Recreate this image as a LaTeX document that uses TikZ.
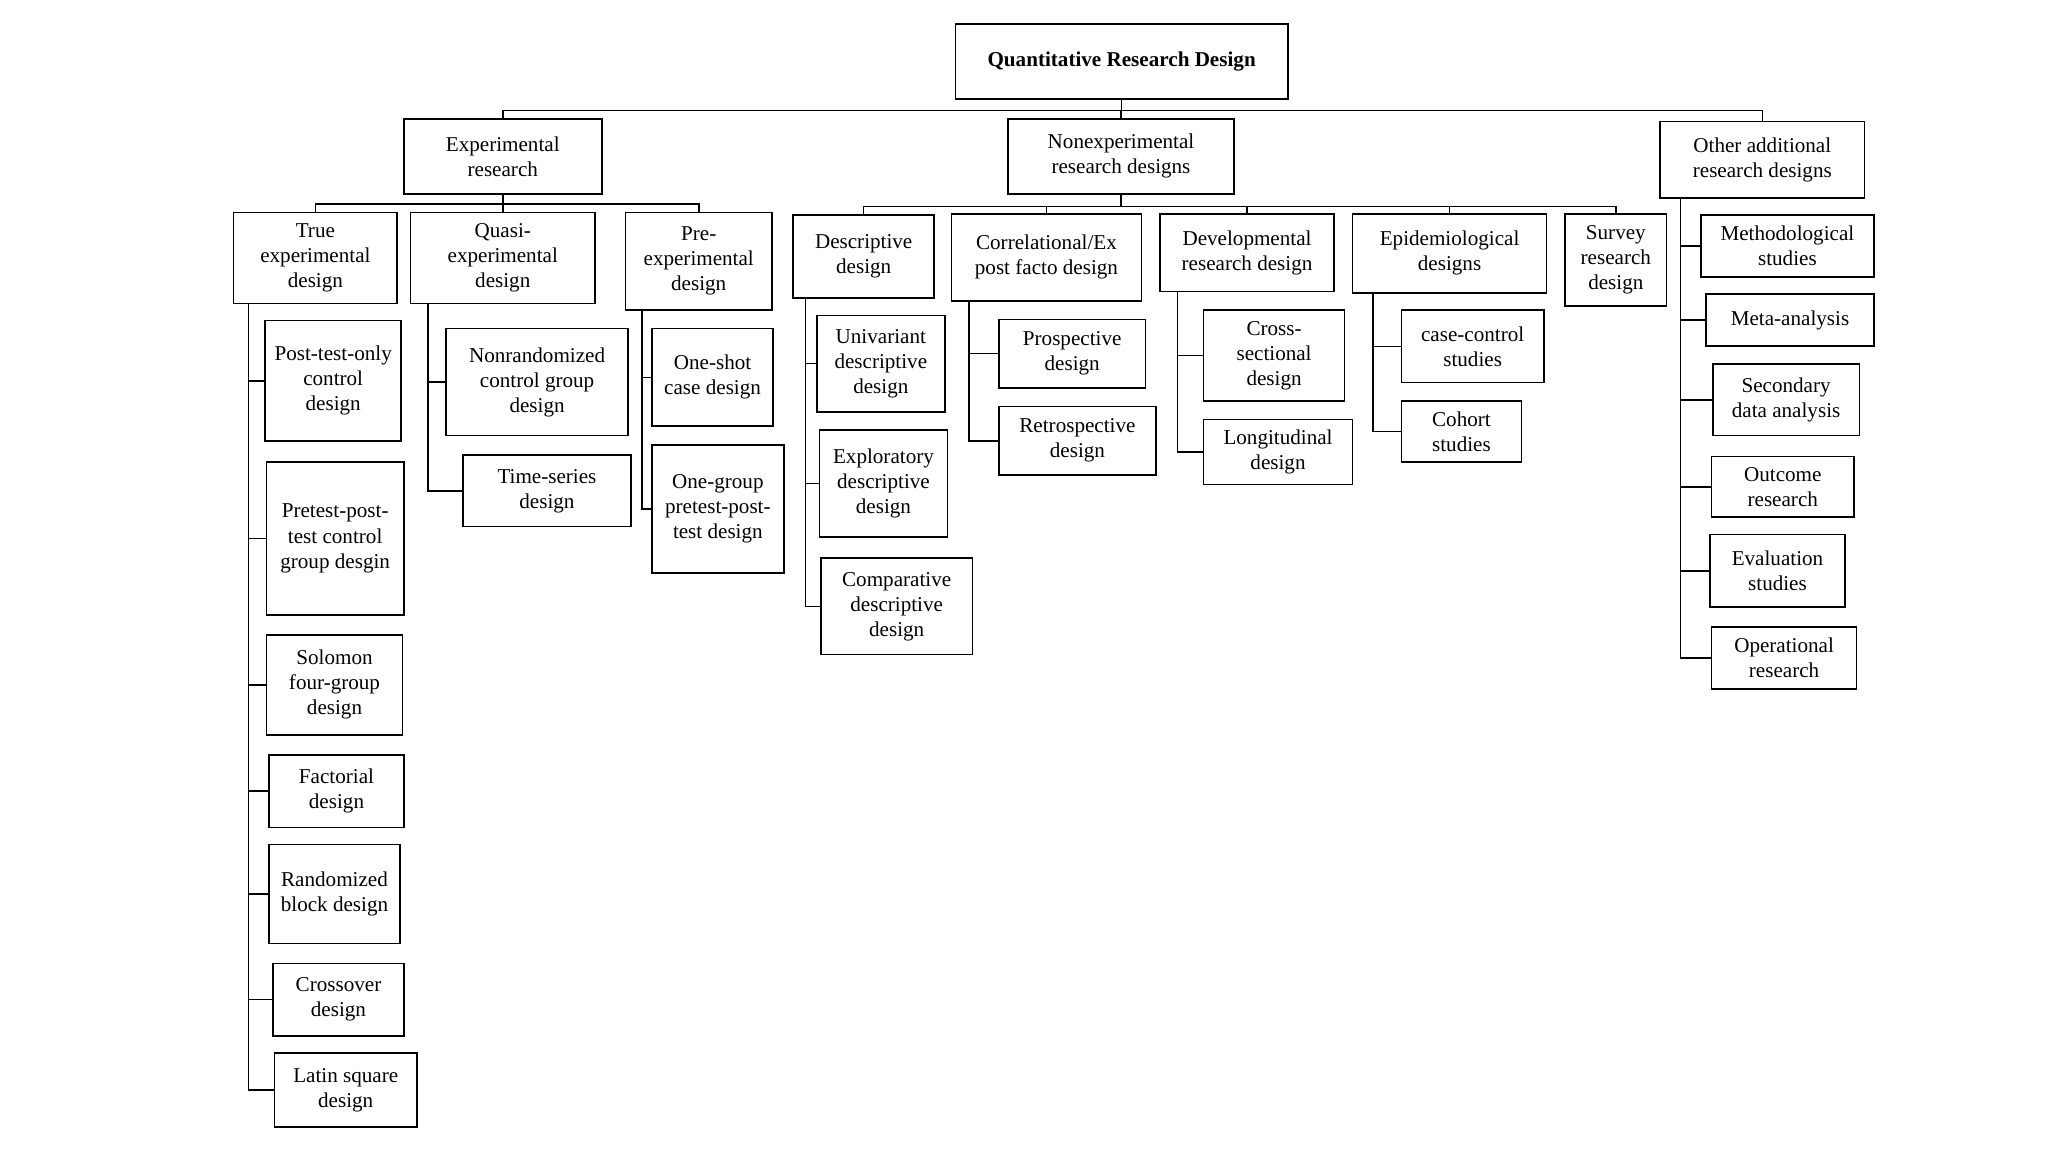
\documentclass[tikz,border=0pt]{standalone}
\usepackage{fontspec}
\setmainfont{Liberation Serif}
\usetikzlibrary{calc}
\tikzset{every picture/.style={line width=1.2pt}}
\tikzset{box/.style={draw,align=center,inner sep=0pt,font=\fontsize{16}{19}\selectfont}}
% box from corner (x1,y1) to corner (x2,y2)
\newcommand{\bx}[6]{%
  \pgfmathsetmacro{\bw}{#4-#2}\pgfmathsetmacro{\bh}{#5-#3}%
  \node[box,minimum width=\bw pt,minimum height=\bh pt] (#1) at ({(#2+#4)/2},{(#3+#5)/2}) {#6};}

\begin{document}
\begin{tikzpicture}[x=1pt,y=1pt,yscale=-1]
\useasboundingbox (0,0) rectangle (1552,873);

% top levels
\bx{root}{724}{18}{976}{75}{\textbf{Quantitative Research Design}}
\bx{exp}{306}{90}{456}{147}{Experimental\\research}
\bx{nonexp}{764}{90}{935}{147}{Nonexperimental\\research designs}
\bx{other}{1258}{92}{1413}{150}{Other additional\\research designs}

% second level
\bx{true}{177}{161}{301}{230}{True\\experimental\\design}
\bx{quasi}{311}{161}{451}{230}{Quasi-\\experimental\\design}
\bx{pre}{474}{161}{585}{235}{Pre-\\experimental\\design}
\bx{desc}{601}{163}{708}{226}{Descriptive\\design}
\bx{corr}{721}{162}{865}{228}{Correlational/Ex\\post facto design}
\bx{dev}{879}{162}{1011}{221}{Developmental\\research design}
\bx{epi}{1025}{162}{1172}{222}{Epidemiological\\designs}
\bx{survey}{1186}{162}{1263}{232}{Survey\\research\\design}

% true experimental
\bx{posttest}{201}{243}{304}{334}{Post-test-only\\control\\design}
\bx{pretest}{202}{350}{306}{466}{Pretest-post-\\test control\\group desgin}
\bx{solomon}{202}{481}{305}{557}{Solomon\\four-group\\design}
\bx{factorial}{204}{572}{306}{627}{Factorial\\design}
\bx{randblock}{204}{640}{303}{715}{Randomized\\block design}
\bx{crossover}{207}{730}{306}{785}{Crossover\\design}
\bx{latin}{208}{798}{316}{854}{Latin square\\design}

% quasi / pre
\bx{nonrand}{338}{249}{476}{330}{Nonrandomized\\control group\\design}
\bx{timeser}{351}{345}{478}{399}{Time-series\\design}
\bx{oneshot}{494}{249}{586}{323}{One-shot\\case design}
\bx{onegroup}{494}{337}{594}{434}{One-group\\pretest-post-\\test design}

% nonexperimental
\bx{univ}{619}{239}{716}{312}{Univariant\\descriptive\\design}
\bx{explor}{621}{326}{718}{407}{Exploratory\\descriptive\\design}
\bx{compar}{622}{423}{737}{496}{Comparative\\descriptive\\design}
\bx{prosp}{757}{242}{868}{294}{Prospective\\design}
\bx{retro}{757}{308}{876}{360}{Retrospective\\design}
\bx{cross}{912}{235}{1019}{304}{Cross-\\sectional\\design}
\bx{longi}{912}{318}{1025}{367}{Longitudinal\\design}
\bx{casectl}{1062}{235}{1170}{290}{case-control\\studies}
\bx{cohort}{1062}{304}{1153}{350}{Cohort\\studies}

% other
\bx{method}{1289}{163}{1420}{210}{Methodological\\studies}
\bx{meta}{1293}{223}{1420}{262}{Meta-analysis}
\bx{second}{1298}{276}{1409}{330}{Secondary\\data analysis}
\bx{outcome}{1297}{346}{1405}{392}{Outcome\\research}
\bx{evalu}{1296}{405}{1398}{460}{Evaluation\\studies}
\bx{operat}{1297}{475}{1407}{522}{Operational\\research}

% buses
\coordinate (rb) at ($(root.south)+(0,8)$);
\draw (root.south) -- (rb);
\foreach \n in {exp,nonexp,other} \draw (rb) -| (\n.north);
\coordinate (eb) at ($(exp.south)+(0,7)$);
\draw (exp.south) -- (eb);
\foreach \n in {true,quasi,pre} \draw (eb) -| (\n.north);
\coordinate (nb) at ($(nonexp.south)+(0,9)$);
\draw (nonexp.south) -- (nb);
\foreach \n in {desc,corr,dev,epi,survey} \draw (nb) -| (\n.north);

% trunks
\coordinate (tt) at ($(true.south west)+(12,0)$);
\foreach \n in {posttest,pretest,solomon,factorial,randblock,crossover,latin} \draw (tt) |- (\n.west);
\coordinate (qt) at ($(quasi.south west)+(14,0)$);
\foreach \n in {nonrand,timeser} \draw (qt) |- (\n.west);
\coordinate (pt) at ($(pre.south west)+(13,0)$);
\foreach \n in {oneshot,onegroup} \draw (pt) |- (\n.west);
\coordinate (dt) at ($(desc.south west)+(10,0)$);
\foreach \n in {univ,explor,compar} \draw (dt) |- (\n.west);
\coordinate (ct) at ($(corr.south west)+(14,0)$);
\foreach \n in {prosp,retro} \draw (ct) |- (\n.west);
\coordinate (vt) at ($(dev.south west)+(14,0)$);
\foreach \n in {cross,longi} \draw (vt) |- (\n.west);
\coordinate (et) at ($(epi.south west)+(16,0)$);
\foreach \n in {casectl,cohort} \draw (et) |- (\n.west);
\coordinate (ot) at ($(other.south west)+(16,0)$);
\foreach \n in {method,meta,second,outcome,evalu,operat} \draw (ot) |- (\n.west);
\end{tikzpicture}
\end{document}
